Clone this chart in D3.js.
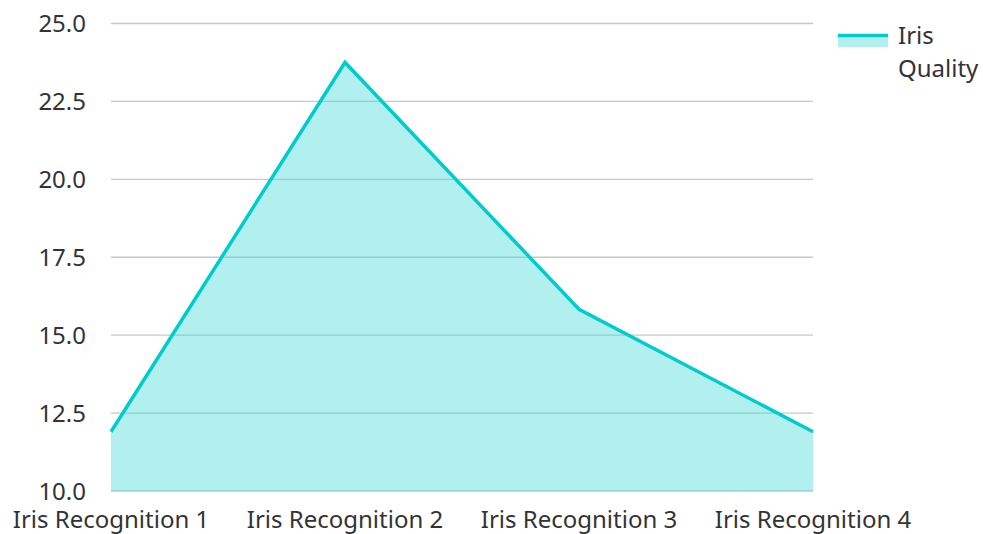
<!DOCTYPE html>
<html>
<head>
<meta charset="utf-8">
<script src="https://cdn.jsdelivr.net/npm/d3@7"></script>
<style>
  body { margin: 0; background: #fff; }
  text { font-family: "Noto Sans", sans-serif; }
</style>
</head>
<body>
<svg id="canvas"></svg>
<script>
// data
const categories = ["Iris Recognition 1", "Iris Recognition 2", "Iris Recognition 3", "Iris Recognition 4"];
const irisQuality = [11.9, 23.75, 15.83, 11.9];
const yTicks = [10.0, 12.5, 15.0, 17.5, 20.0, 22.5, 25.0];
const seriesName = ["Iris", "Quality"];

const width = 983;
const height = 534;
const svg = d3.select("#canvas").attr("width", width).attr("height", height);

// margins
const marginTop = 23.5;
const marginRight = 170;
const marginBottom = 43;
const marginLeft = 111;

const xScale = d3.scalePoint()
    .domain(categories)
    .range([marginLeft, width - marginRight]);

const yScale = d3.scaleLinear()
    .domain([10, 25])
    .range([height - marginBottom, marginTop]);

const lineColor = "#00cccc";
const fillColor = "#b2efef";
const fontSize = 24;

// gridlines
svg.append("g")
    .selectAll("line")
    .data(yTicks)
    .join("line")
        .attr("x1", marginLeft)
        .attr("x2", width - marginRight)
        .attr("y1", d => yScale(d))
        .attr("y2", d => yScale(d))
        .attr("stroke", "#c8c8c8")
        .attr("stroke-width", 1.3);

const data = categories.map((c, i) => ({cat: c, v: irisQuality[i]}));

// area
const area = d3.area()
    .x(d => xScale(d.cat))
    .y0(yScale(10))
    .y1(d => yScale(d.v));

svg.append("clipPath")
    .attr("id", "areaClip")
    .append("path")
    .datum(data)
    .attr("d", area);

svg.append("path")
    .datum(data)
    .attr("d", area)
    .attr("fill", fillColor);

// gridlines seen through the fill
svg.append("g")
    .attr("clip-path", "url(#areaClip)")
    .selectAll("line")
    .data(yTicks)
    .join("line")
        .attr("x1", marginLeft)
        .attr("x2", width - marginRight)
        .attr("y1", d => yScale(d))
        .attr("y2", d => yScale(d))
        .attr("stroke", "#8fcfcd")
        .attr("stroke-width", 1.3);

// line
svg.append("path")
    .datum(data)
    .attr("d", d3.line().x(d => xScale(d.cat)).y(d => yScale(d.v)))
    .attr("fill", "none")
    .attr("stroke", lineColor)
    .attr("stroke-width", 3.5);

// y axis labels
svg.append("g")
    .selectAll("text")
    .data(yTicks)
    .join("text")
        .attr("x", 86)
        .attr("y", d => yScale(d))
        .attr("dy", "0.36em")
        .attr("text-anchor", "end")
        .attr("font-size", fontSize)
        .attr("fill", "#333")
        .text(d => d.toFixed(1));

// x axis labels
svg.append("g")
    .selectAll("text")
    .data(categories)
    .join("text")
        .attr("x", d => xScale(d))
        .attr("y", 528)
        .attr("text-anchor", "middle")
        .attr("font-size", fontSize)
        .attr("fill", "#333")
        .text(d => d);

// legend
const legend = svg.append("g");
legend.append("rect")
    .attr("x", 838).attr("y", 34)
    .attr("width", 50).attr("height", 13)
    .attr("fill", fillColor);
legend.append("line")
    .attr("x1", 838).attr("x2", 888)
    .attr("y1", 35.5).attr("y2", 35.5)
    .attr("stroke", lineColor)
    .attr("stroke-width", 3.5);
legend.append("text")
    .attr("font-size", fontSize)
    .attr("fill", "#333")
    .selectAll("tspan")
    .data(seriesName)
    .join("tspan")
        .attr("x", 898)
        .attr("y", (d, i) => 44 + i * 33)
        .text(d => d);
</script>
</body>
</html>
